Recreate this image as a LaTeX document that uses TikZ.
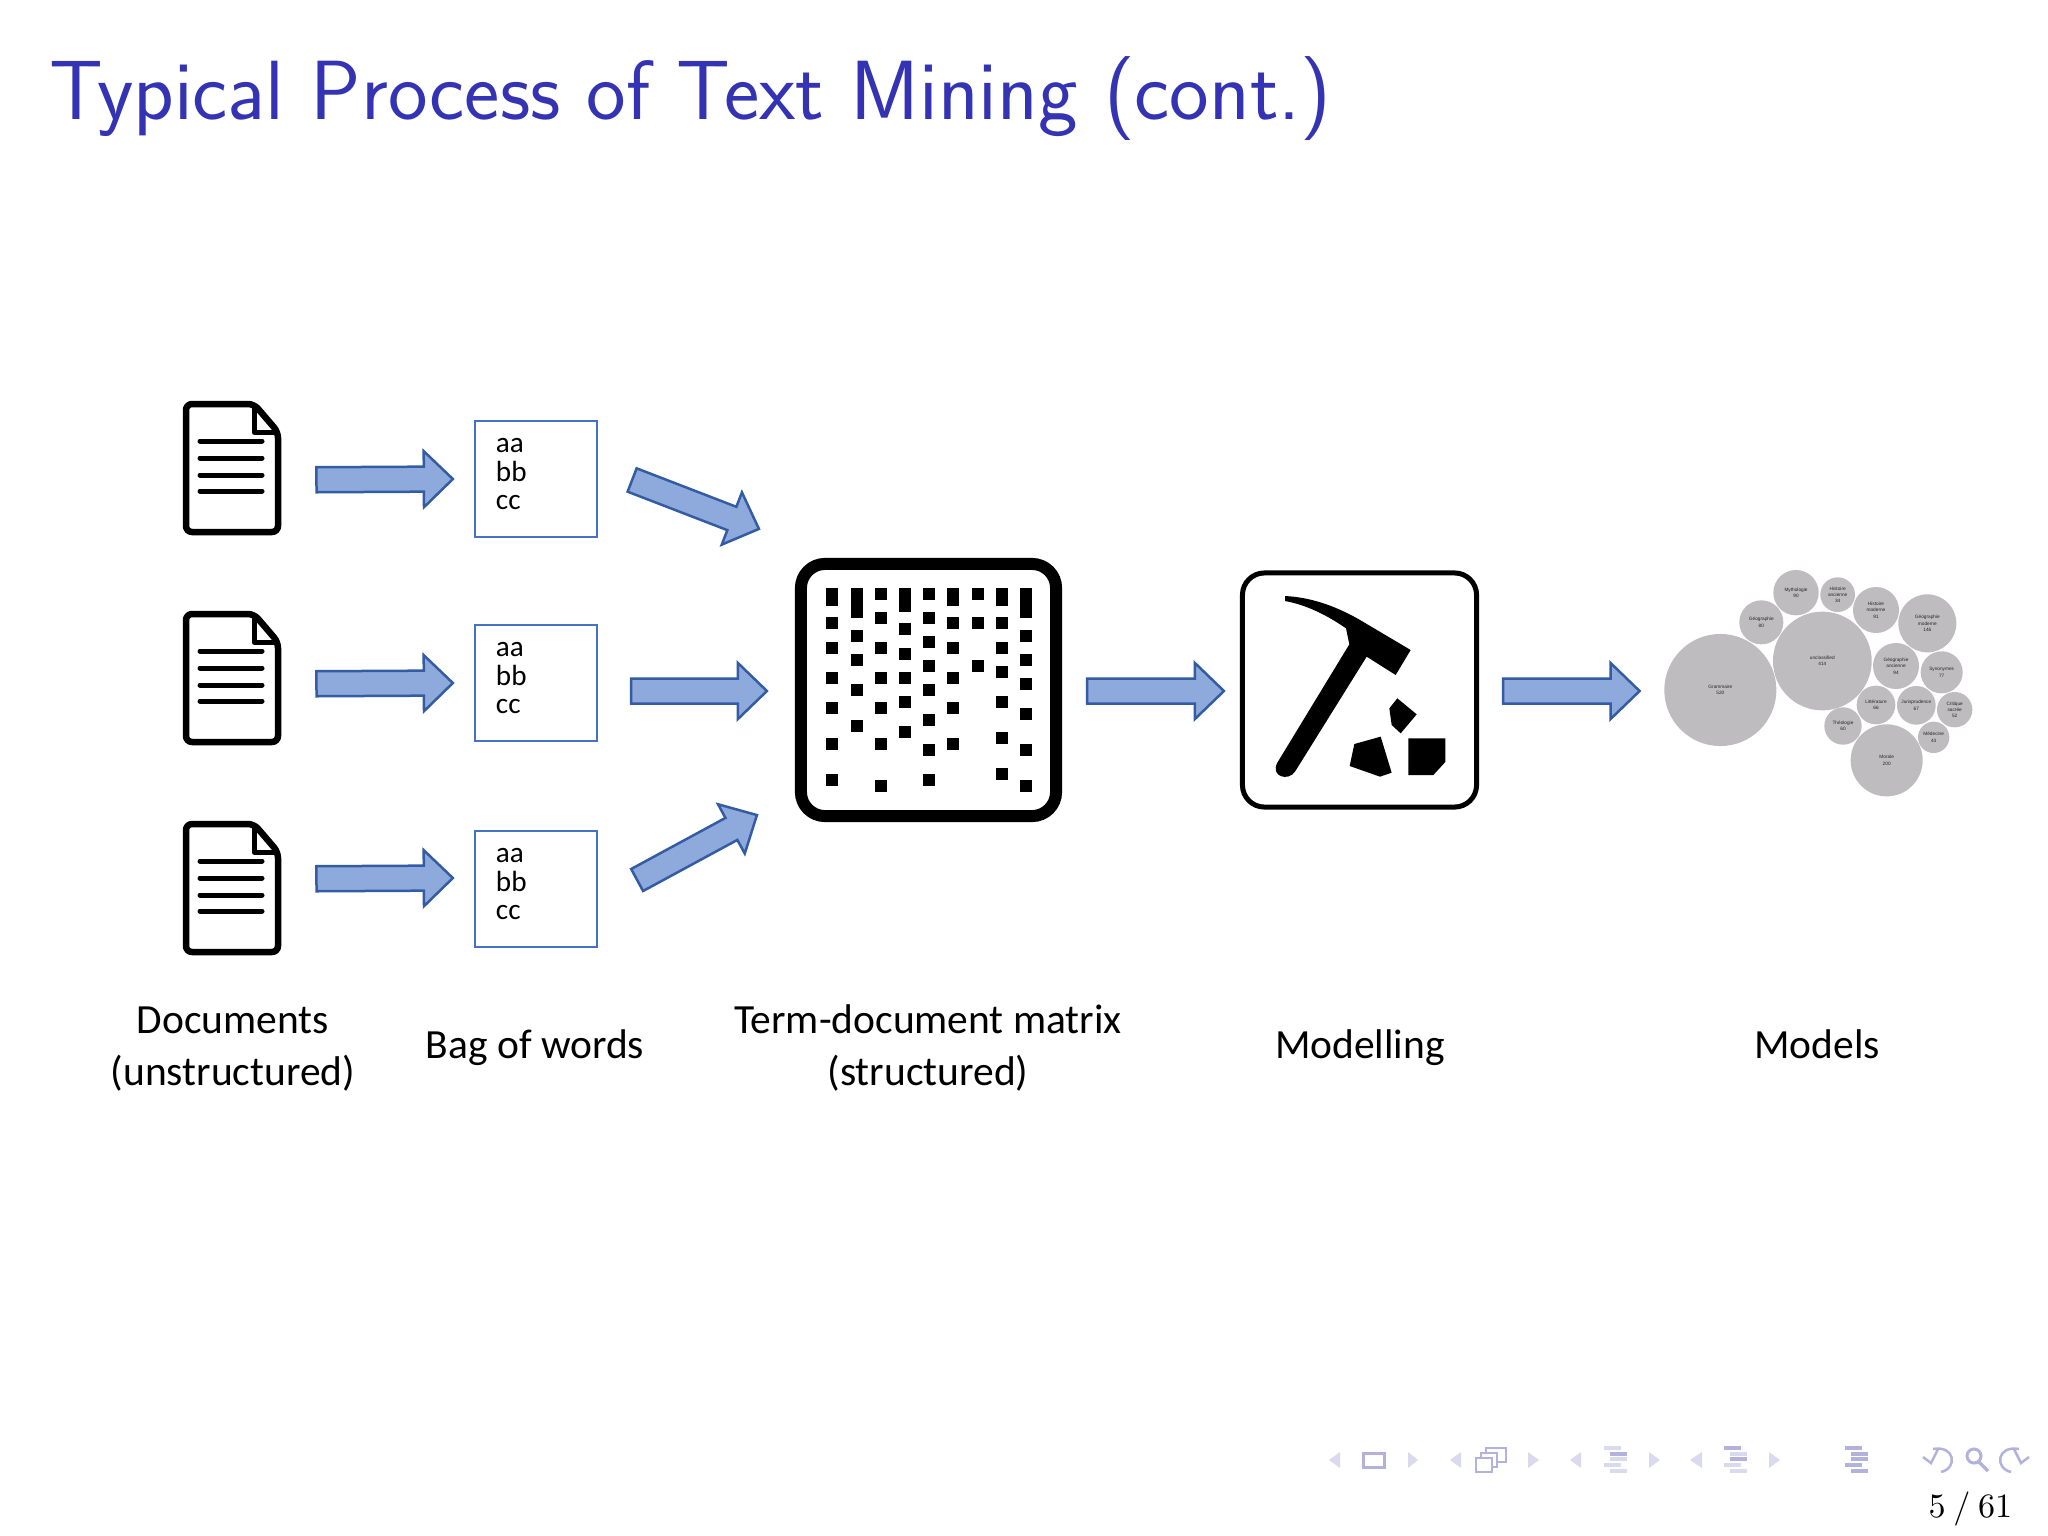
\documentclass[tikz,border=0pt]{standalone}
\usepackage{fontspec}
\usetikzlibrary{calc}
\newfontfamily\labelfont{Carlito}
\newfontfamily\bubblefont{Liberation Sans}
\definecolor{titleblue}{RGB}{51,51,179}
\definecolor{arrowfill}{RGB}{142,169,219}
\definecolor{arrowedge}{RGB}{52,92,163}
\definecolor{boxedge}{RGB}{68,114,196}
\definecolor{bubblegray}{RGB}{190,188,190}
\definecolor{navsolid}{RGB}{178,178,220}
\definecolor{navpale}{RGB}{218,218,238}
\tikzset{
  blockarrow/.style={draw=arrowedge,fill=arrowfill,line width=.025cm,to path={
    ($(\tikztostart)!.125cm!90:(\tikztotarget)$)
    -- ($(\tikztotarget)!.29cm!(\tikztostart)!.125cm!90:(\tikztotarget)$)
    -- ($(\tikztotarget)!.29cm!(\tikztostart)!.28cm!90:(\tikztotarget)$)
    -- (\tikztotarget)
    -- ($(\tikztotarget)!.29cm!(\tikztostart)!.28cm!-90:(\tikztotarget)$)
    -- ($(\tikztotarget)!.29cm!(\tikztostart)!.125cm!-90:(\tikztotarget)$)
    -- ($(\tikztostart)!.125cm!-90:(\tikztotarget)$) -- cycle}},
  docnode/.style={minimum width=.98cm,minimum height=1.34cm,inner sep=0pt},
  bagbox/.style={draw=boxedge,line width=.022cm,minimum width=1.22cm,minimum height=1.16cm,
    text width=.80cm,inner xsep=.21cm,inner ysep=0pt,align=left,font=\labelfont\fontsize{8.3}{8.1}\selectfont},
  caption/.style={align=center,font=\labelfont\fontsize{11.8}{14.7}\selectfont},
  bubble/.style={circle,fill=bubblegray,inner sep=0pt,align=center,text=black!85,
    font=\bubblefont\fontsize{1.35}{1.8}\selectfont},
}
\begin{document}
\begin{tikzpicture}[x=.01cm,y=-.01cm]
\useasboundingbox (0,0) rectangle (2048,1536);
\node[anchor=base west,inner sep=0pt,text=titleblue,font=\sffamily\fontsize{23.9}{28}\selectfont] (title) at (49,119) {Typical Process of Text Mining (cont.)};
% documents
\foreach \name/\y in {doca/401,docb/611,docc/821} {
  \node[docnode,anchor=north west] (\name) at (183,\y) {};
  \begin{scope}[shift={(183,\y)}]
    \draw[line width=.065cm,rounded corners=.06cm,line join=round] (3,3) -- (71,3) -- (95,31) -- (95,131) -- (3,131) -- cycle;
    \draw[line width=.05cm,line join=round] (71,3) -- (71,31) -- (95,31);
    \foreach \ly in {40,57,74,90}
      \draw[line width=.05cm,line cap=round] (17,\ly) -- (79,\ly);
  \end{scope}
}
% bags
\foreach \name/\y in {baga/479,bagb/683,bagc/889}
  \node[bagbox] (\name) at (536,\y) {aa\\bb\\cc\\[-.185cm]\phantom{x}};
% matrix
\node[draw,line width=.12cm,rounded corners=.24cm,minimum width=2.55cm,minimum height=2.52cm] (tdm) at (928.5,690) {};
\begin{scope}[shift={(780,540)},scale=1/3]
  \foreach \x/\ys in {157/{250,323,413,503,612,720},230/{287,359,449,558},302/{161,233,323,413,503,612,738},
      375/{268,341,413,485,576},448/{161,233,305,377,449,540,630,720},520/{250,323,413,503,612},
      593/{161,250,377},666/{250,323,395,485,594,702},738/{287,359,431,521,630,738}}
    \foreach \y in \ys
      \fill (\x-18,\y-18) rectangle (\x+18,\y+18);
  \foreach \x/\yb in {157/197,230/233,375/215,520/197,666/197,738/233}
    \fill (\x-18,143) rectangle (\x+18,\yb);
\end{scope}
% hammer
\node[draw,line width=.05cm,rounded corners=.22cm,minimum width=2.34cm,minimum height=2.34cm] (mine) at (1359.5,690) {};
\begin{scope}[shift={(1220,550)},scale=1/3]
  \fill (195,138) .. controls (270,142) and (340,165) .. (415,207) -- (572,300) -- (527,375) -- (440,320) -- (225,665)
    .. controls (205,695) and (150,680) .. (172,638) -- (388,283) -- (378,235) .. controls (320,195) and (260,165) .. (195,153) -- cycle;
  \fill (532,445) -- (590,493) -- (542,550) -- (515,525) -- (508,475) -- cycle;
  \fill (403,582) -- (482,560) -- (515,668) -- (480,680) -- (389,648) -- cycle;
  \fill (565,565) -- (676,565) -- (676,636) -- (640,675) -- (565,675) -- cycle;
\end{scope}
% models
\begin{scope}[shift={(1650,560)},scale=1/3]
  \foreach \name/\cx/\cy/\r/\txt in {
      gram/211/390/168/{Grammaire\\520},myth/438/98/68/{Mythologie\\90},hanc/563/104/52/{Histoire\\ancienne\\34},
      hmod/678/150/69/{Histoire\\moderne\\91},gmod/832/190/87/{Géographie\\moderne\\146},geog/334/187/66/{Géographie\\80},
      uncl/517/303/148/{unclassified\\414},ganc/738/318/69/{Géographie\\ancienne\\94},syno/875/337/63/{Synonymes\\77},
      litt/678/435/58/{Littérature\\66},juri/799/436/58/{Jurisprudence\\67},crit/914/449/53/{Critique\\sacrée\\52},
      theo/579/498/56/{Théologie\\60},mede/851/532/47/{Médecine\\43},mora/710/601/108/{Morale\\200}}
    \node[bubble,minimum size={\r*0.006667cm}] (\name) at (\cx,\cy) {\txt};
\end{scope}
% arrows
\draw[blockarrow] ([shift={(34,11)}]doca.east) to ([shift={(-21,0)}]baga.west);
\draw[blockarrow] ([shift={(34,5)}]docb.east) to ([shift={(-21,0)}]bagb.west);
\draw[blockarrow] ([shift={(34,-10)}]docc.east) to ([shift={(-21,-11)}]bagc.west);
\draw[blockarrow] ([shift={(34,1)}]baga.east) to ([shift={(-36,-29)}]tdm.north west);
\draw[blockarrow] ([shift={(33,8)}]bagb.east) to ([shift={(-28,1)}]tdm.west);
\draw[blockarrow] ([shift={(39,-9)}]bagc.east) to ([shift={(-38,-7)}]tdm.south west);
\draw[blockarrow] ([shift={(25,1)}]tdm.east) to ([shift={(-16,1)}]mine.west);
\draw[blockarrow] ([shift={(24,1)}]mine.east) to ([shift={(-24,1)}]gram.west);
% captions
\node[caption] (capdoc) at (233,1049) {Documents\\(unstructured)};
\node[caption] (capbag) at (535,1048) {Bag of words};
\node[caption] (captdm) at (928,1048) {Term-document matrix\\(structured)};
\node[caption] (capmine) at (1360,1048) {Modelling};
\node[caption] (capmodels) at (1817,1044) {Models};
% navigation symbols
\foreach \xa/\xb in {1340/1329,1461/1450,1581/1570,1702/1690}
  \fill[navpale] (\xa,1452) -- (\xb,1460) -- (\xa,1468) -- cycle;
\foreach \xa/\xb in {1408/1418,1528/1539,1649/1660,1769/1780}
  \fill[navpale] (\xa,1452) -- (\xb,1460) -- (\xa,1468) -- cycle;
\draw[navsolid,line width=.03cm] (1363,1453) rectangle (1384,1467);
\draw[navsolid,line width=.025cm] (1476,1458) rectangle (1492,1472);
\draw[navsolid,line width=.025cm] (1481,1458) -- (1481,1453) -- (1497,1453) -- (1497,1467) -- (1492,1467);
\draw[navsolid,line width=.025cm] (1486,1453) -- (1486,1448) -- (1506,1448) -- (1506,1462) -- (1497,1462);
\foreach \ix/\ca/\cb/\cc/\cd/\ce in {1604/navpale/navsolid/navpale/navpale/navpale,1724/navsolid/navpale/navsolid/navpale/navpale,1845/navsolid/navsolid/navsolid/navsolid/navsolid} {
  \draw[\ca,line width=.035cm] (\ix,1448) -- ++(17,0);
  \draw[\cb,line width=.035cm] (\ix+5.5,1454) -- ++(17,0);
  \draw[\cc,line width=.035cm] (\ix+5.5,1459) -- ++(17,0);
  \draw[\cd,line width=.035cm] (\ix,1465) -- ++(17,0);
  \draw[\ce,line width=.035cm] (\ix+5.5,1471) -- ++(17,0);
}
\draw[navsolid,line width=.025cm] (1933,1449) .. controls (1955,1445) and (1958,1468) .. (1941,1472);
\draw[navsolid,line width=.025cm] (1923,1457) -- (1931,1463) -- (1938,1449);
\draw[navsolid,line width=.03cm] (1974,1456) circle (.07cm);
\draw[navsolid,line width=.035cm] (1979,1462) -- (1988,1471);
\draw[navsolid,line width=.025cm] (2019,1449) .. controls (1997,1445) and (1994,1468) .. (2011,1472);
\draw[navsolid,line width=.025cm] (2029,1457) -- (2021,1463) -- (2014,1449);
\node[anchor=base east,inner sep=0pt,font=\rmfamily\fontsize{9.7}{12}\selectfont] (pagenum) at (2013,1517) {5\hspace{2.2pt}/\hspace{2.2pt}61};
\end{tikzpicture}
\end{document}
